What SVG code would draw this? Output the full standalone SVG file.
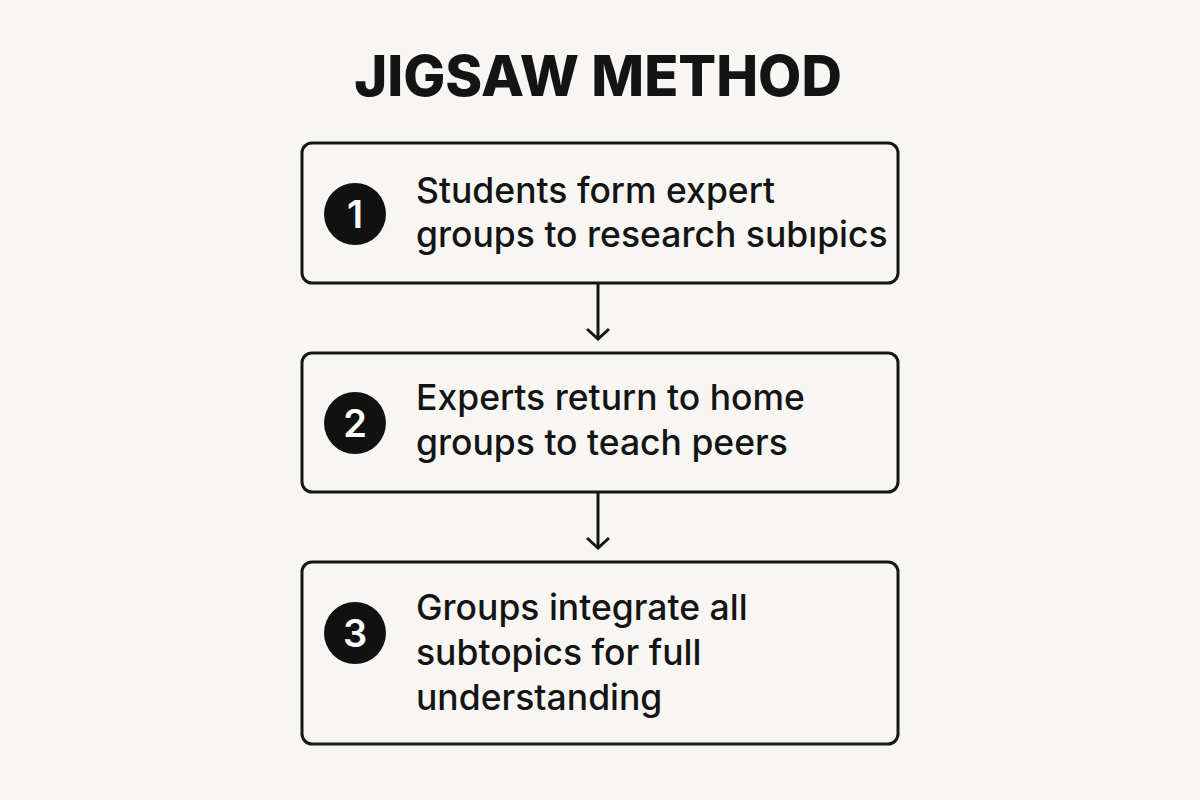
<svg xmlns="http://www.w3.org/2000/svg" width="1200" height="800" viewBox="0 0 1200 800">
<defs>
<style>
.bg{fill:#f8f6f3}
.box{fill:#f8f6f3;stroke:#161616;stroke-width:3}
.badge{fill:#111}
.num{fill:#fff;font-family:Inter,"Liberation Sans",sans-serif;font-size:38px;font-weight:600;text-anchor:middle}
.txt{fill:#141414;font-family:Inter,"Liberation Sans",sans-serif;font-size:35.5px;font-weight:500}
.title{fill:#141414;font-family:Inter,"Liberation Sans",sans-serif;font-size:56px;font-weight:800;text-anchor:middle}
.conn{stroke:#161616;stroke-width:3;fill:none}
</style>
<marker id="arr" viewBox="0 0 20 24" refX="18" refY="12" markerWidth="20" markerHeight="24" markerUnits="userSpaceOnUse" orient="auto">
<path d="M8,1 L18,12 L8,23" fill="none" stroke="#161616" stroke-width="3"/>
</marker>
</defs>
<rect class="bg" width="1200" height="800"/>
<text class="title" x="598" y="96">JIGSAW METHOD</text>
<g id="step1">
<rect class="box" x="302" y="143" width="596" height="140" rx="10"/>
<circle class="badge" cx="355" cy="214" r="31"/>
<text class="num" x="355" y="228">1</text>
<text class="txt" x="416" y="203">Students form expert</text>
<text class="txt" x="416" y="247">groups to research subıpics</text>
</g>
<g id="step2">
<rect class="box" x="302" y="353" width="596" height="139" rx="10"/>
<circle class="badge" cx="355" cy="423" r="31"/>
<text class="num" x="355" y="437">2</text>
<text class="txt" x="416" y="410">Experts return to home</text>
<text class="txt" x="416" y="455">groups to teach peers</text>
</g>
<g id="step3">
<rect class="box" x="302" y="562" width="596" height="182" rx="10"/>
<circle class="badge" cx="355" cy="633" r="31"/>
<text class="num" x="355" y="647">3</text>
<text class="txt" x="416" y="620">Groups integrate all</text>
<text class="txt" x="416" y="665">subtopics for full</text>
<text class="txt" x="416" y="710">understanding</text>
</g>
<g id="connectors">
<line class="conn" x1="598" y1="283" x2="598" y2="339" marker-end="url(#arr)"/>
<line class="conn" x1="598" y1="492" x2="598" y2="548" marker-end="url(#arr)"/>
</g>
</svg>
